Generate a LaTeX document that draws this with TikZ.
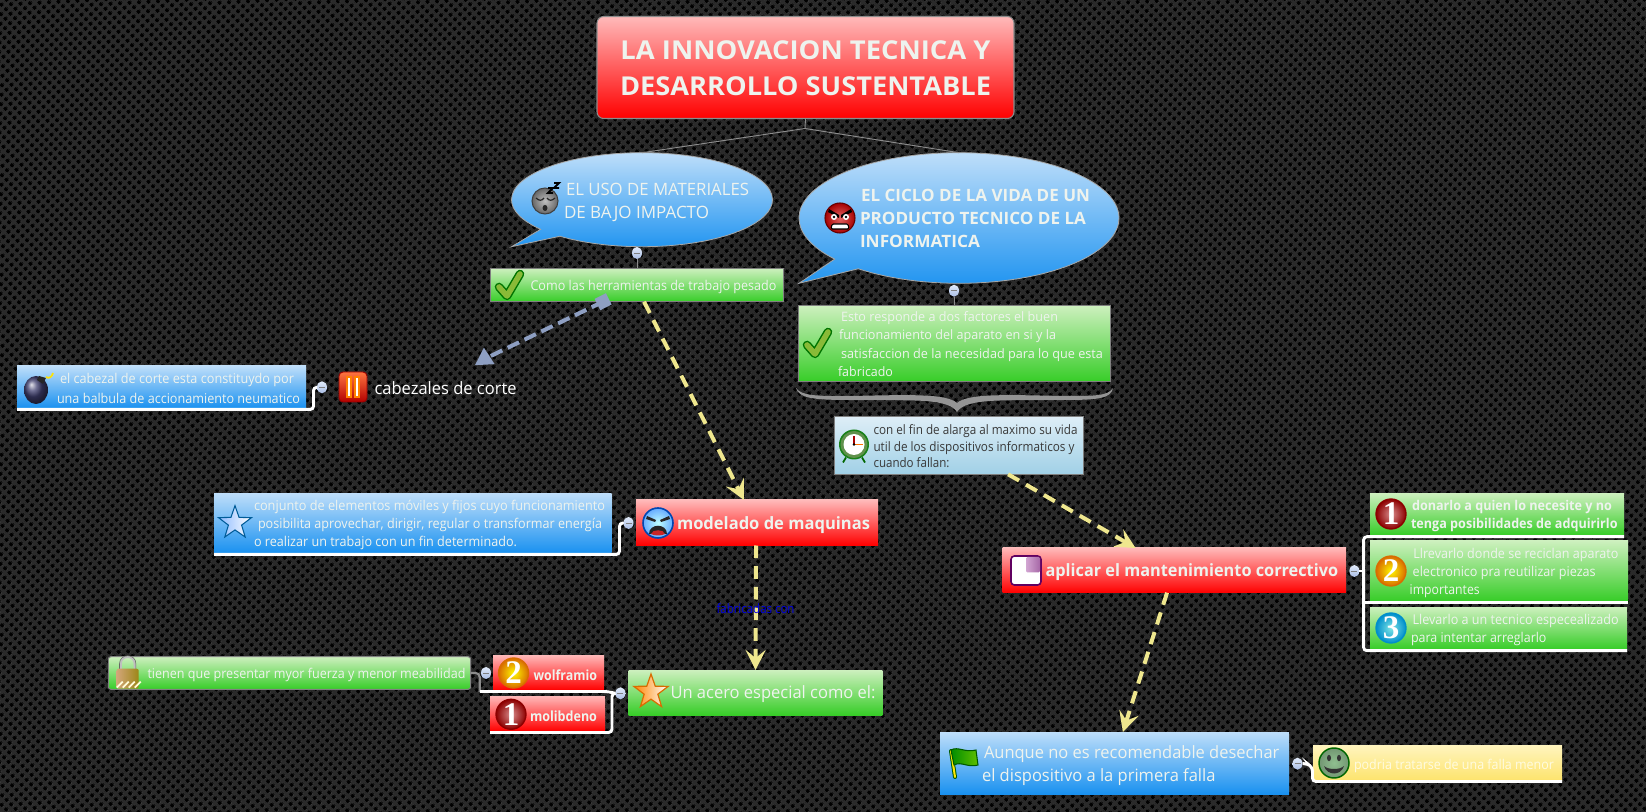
\documentclass[tikz,border=0pt]{standalone}
\usepackage{fontspec}
\usepackage{graphicx}
\usetikzlibrary{shapes.geometric,shapes.callouts,arrows.meta,patterns.meta,calc}
\setmainfont{Open Sans}
\newfontfamily\numf{Liberation Serif}
\newdimen\pxu \pxu=0.75pt
\newcommand\fitl[2]{\resizebox{#1\pxu}{\height}{#2}}
\newcommand\fs[2]{\fontsize{#1\pxu}{#2\pxu}\selectfont}
\definecolor{bgc}{HTML}{2A2A2A}
\definecolor{yel}{HTML}{EFE78E}
\definecolor{blg}{HTML}{8E9FC2}
\definecolor{txtw}{HTML}{EEF3EE}
\tikzset{
  flat/.style={inner sep=0pt,outer sep=0pt,rectangle},
  txt/.style={inner sep=0pt,outer sep=0pt,text=txtw,align=left},
  yarrow/.style={draw=yel,line width=3pt,dash pattern=on 9.5pt off 6pt,-{Stealth[length=15pt,width=15pt,inset=6pt,fill=yel]}},
  wline/.style={draw=white,line width=2.2pt,rounded corners=2.5pt},
  thin line/.style={draw=black!45,line width=.7pt},
  dotn/.style={ellipse,inner sep=0pt,outer sep=0pt,minimum width=7.5pt,minimum height=9pt,top color={rgb,255:red,225;green,235;blue,250},bottom color={rgb,255:red,170;green,190;blue,230}},
  rd/.style={flat,top color={rgb,255:red,255;green,185;blue,185},bottom color=red},
  gr/.style={flat,top color={rgb,255:red,205;green,240;blue,190},bottom color={rgb,255:red,55;green,205;blue,40}},
  bl/.style={flat,top color={rgb,255:red,190;green,222;blue,250},bottom color={rgb,255:red,25;green,145;blue,240}},
  lb/.style={flat,draw=black!50,line width=.8pt,top color={rgb,255:red,222;green,238;blue,247},bottom color={rgb,255:red,160;green,208;blue,230}},
  yl/.style={flat,top color={rgb,255:red,255;green,244;blue,190},bottom color={rgb,255:red,253;green,228;blue,110}},
  callbub/.style={ellipse callout,inner sep=0pt,outer sep=0pt,draw=black!35,line width=.6pt,top color={rgb,255:red,190;green,222;blue,250},bottom color={rgb,255:red,25;green,145;blue,240},callout pointer arc=12},
}
\newcommand\bx[6]{\node[#2,anchor=north west,minimum width={(#5-#3)*0.75pt},minimum height={(#6-#4)*0.75pt}] (#1) at (#3,#4) {};}
\newcommand\colld[3]{\node[dotn] (#1) at (#2,#3) {}; \draw[black!50,line width=.7pt] (#2-3,#3) -- (#2+3,#3);}
\newcommand\badge[6]{\node[circle,inner sep=0pt,outer sep=0pt,minimum size=22.5pt,draw=#5,line width=1pt,inner color=#4,outer color=#5,text=white,font=\numf\bfseries\fs{33}{33}] (#1) at (#2,#3) {#6};}
\newcommand\icheck[3]{\begin{scope}[shift={(#1,#2)},scale=#3]
 \draw[green!45!black,line width=6.4pt*#3,line cap=round,line join=round] (-11,2) -- (-3,11) -- (10,-11);
 \draw[yellow!55!green!85!black,line width=4.2pt*#3,line cap=round,line join=round] (-11,2) -- (-3,11) -- (10,-11);
 \end{scope}}
\begin{document}
\begin{tikzpicture}[x=0.75pt,y=-0.75pt]
\useasboundingbox (0,0) rectangle (1646,812);
\fill[bgc] (0,0) rectangle (1646,812);
\fill[pattern={Dots[distance=5.4pt,radius=1.8pt,angle=45]},pattern color=black] (0,0) rectangle (1646,812);

%% boxes
\node[flat,rounded corners=5pt,draw=black!45,line width=.8pt,top color={rgb,255:red,255;green,185;blue,185},bottom color=red,minimum width={417*0.75pt},minimum height={102*0.75pt}] (title) at (805.5,67.5) {};
\node[txt,align=center,font=\bfseries\fs{26}{36}] (ttl) at (805.5,68.5) {\fitl{370}{LA INNOVACION TECNICA Y}\\\fitl{371}{DESARROLLO SUSTENTABLE}};
\node[callbub,minimum width={261*0.75pt},minimum height={94*0.75pt},callout absolute pointer={(511.6,246.7)}] (bub1) at (642,199.7) {};
\node[callbub,minimum width={320*0.75pt},minimum height={130.6*0.75pt},callout absolute pointer={(799,283.3)}] (bub2) at (959,218) {};
\coordinate (hub) at (805,128.5);
\draw[thin line] (title.south) -- (hub) -- (bub1.north);
\draw[thin line] (hub) -- (bub2.north);

\bx{herr}{gr,draw=black!50,line width=.6pt}{490.5}{268.3}{783}{301.7}
\bx{esto}{gr,draw=black!50,line width=.8pt}{798.3}{305.3}{1110.7}{381.7}
\bx{fin}{lb}{834.3}{416.7}{1083.3}{474.3}
\bx{cabz}{bl}{17}{366}{306}{408}
\bx{conj}{bl}{214}{493.3}{611.5}{553}
\bx{mod}{rd}{636}{500}{878}{545.5}
\bx{lock}{gr,draw=black!50,line width=.8pt,rounded corners=2pt}{108.3}{656.7}{470.7}{689.3}
\bx{wolf}{rd}{493}{655}{604}{690}
\bx{moli}{rd}{490}{696}{605}{731}
\bx{acero}{gr}{628.7}{670}{882.4}{715}
\bx{apli}{rd}{1002.5}{548}{1346}{592.7}
\bx{don}{gr}{1370}{493.3}{1624}{535}
\bx{llev}{gr}{1370}{541}{1628}{601}
\bx{tecn}{gr}{1370}{607}{1627}{649}
\bx{aunq}{bl}{940}{732}{1289}{794}
\bx{falla}{yl}{1313}{745}{1562}{780}

%% collapse dots and thin links
\colld{d1}{637}{253}
\colld{d2}{954}{290.7}
\draw[thin line] (d1) -- (herr.north -| d1);
\draw[thin line] (d2) -- (esto.north -| d2);

%% brace
\fill[black!42] (796,388) .. controls (799,398) and (812,400) .. (850,400) .. controls (905,401) and (948,397) .. (957,412) .. controls (966,397) and (1010,401) .. (1065,400) .. controls (1100,400) and (1111,398) .. (1113,388) .. controls (1108,396) and (1095,396) .. (1065,396) .. controls (1010,395) and (968,393) .. (957,403) .. controls (946,393) and (905,395) .. (850,396) .. controls (815,396) and (802,396) .. (796,388) -- cycle;

%% white connectors
\colld{d3}{322}{387.3}
\draw[wline] (d3.west) -- ++(-3.5,0) |- ([yshift=-1.1pt]cabz.south west);
\colld{d4}{628.5}{523}
\draw[wline] (d4.west) -- ++(-4,0) |- ([yshift=-1.1pt]conj.south west);
\colld{d5}{486}{673}
\draw[draw=black!45,line width=1.6pt,rounded corners=3pt] (lock.east) -- ++(9,0) -- ++(0,19);
\colld{d6}{620.4}{693.3}
\draw[wline] (d6.west) -- ([xshift=2pt,yshift=-1.1pt]wolf.south east) -- (480,691.5);
\draw[wline] (d6.west) -- ++(-3.4,0) |- ([yshift=-1.1pt]moli.south west);
\colld{d7}{1354.4}{571}
\draw[wline] (d7.east) -- (1363.6,571);
\draw[wline] (don.south east |- 0,536.7) -- (1363.6,536.7) -- (1363.6,650.7) -- (tecn.south east |- 0,650.7);
\draw[wline] (1363.6,602.8) -- (llev.south east |- 0,602.8);
\colld{d8}{1297.5}{763.7}
\draw[wline] (d8.east) -- ++(5,0) -- ++(5,4) |- ([yshift=-1.1pt]falla.south east);

%% dashed connectors
\node[regular polygon,regular polygon sides=3,fill=blg,inner sep=0pt,outer sep=0pt,minimum size=17pt,rotate=3] (btri) at (484.5,359) {};
\draw[draw=blg,line width=3pt,dash pattern=on 9.5pt off 4.5pt] ($(herr.south west)!.385!(herr.south east)$) -- (btri);
\node[flat,fill=blg,minimum size=9.5pt,rotate=27] (bsq) at ($(herr.south west)!.385!(herr.south east)$) {};
\draw[yarrow] ($(herr.south west)!.525!(herr.south east)$) -- ($(mod.north west)!.446!(mod.north east)$);
\draw[yarrow] ($(mod.south west)!.496!(mod.south east)$) -- ($(acero.north west)!.5!(acero.north east)$);
\draw[yarrow] ($(fin.south west)!.698!(fin.south east)$) -- ($(apli.north west)!.3875!(apli.north east)$);
\draw[yarrow] ($(apli.south west)!.479!(apli.south east)$) -- ($(aunq.north west)!.524!(aunq.north east)$);
\node[inner sep=0pt,text={rgb,255:red,0;green,0;blue,225},font=\fs{13}{13}] (lfab) at (755.5,609) {\fitl{78}{fabricadas con}};

%% texts
\node[txt,anchor=west,font=\fs{17}{23}] (tb1) at (564,202.5) {\hspace*{2\pxu}\fitl{183}{EL USO DE MATERIALES}\\\fitl{145}{DE BAJO IMPACTO}};
\node[txt,anchor=west,font=\bfseries\fs{17}{23}] (tb2) at (860,218.5) {\hspace*{1\pxu}\fitl{229}{EL CICLO DE LA VIDA DE UN}\\\fitl{226}{PRODUCTO TECNICO DE LA}\\\fitl{120}{INFORMATICA}};
\node[txt,anchor=west,font=\fs{13.5}{18}] (th) at (530.5,287) {\fitl{246}{Como las herramientas de trabajo pesado}};
\node[txt,anchor=west,font=\fs{13}{18.3}] (te) at (838,344) {\hspace*{3\pxu}\fitl{217}{Esto responde a dos factores el buen}\\\hspace*{1\pxu}\fitl{217}{funcionamiento del aparato en si y la}\\\hspace*{3\pxu}\fitl{262}{satisfaccion de la necesidad para lo que esta}\\\fitl{55}{fabricado}};
\node[txt,anchor=west,text=black!78,font=\fs{13}{16.5}] (tf) at (873.5,446.5) {\fitl{204}{con el fin de alarga al maximo su vida}\\\fitl{201}{util de los dispositivos informaticos y}\\\fitl{76}{cuando fallan:}};
\node[txt,anchor=west,font=\fs{13.5}{19.3}] (tc) at (57,388.5) {\hspace*{3\pxu}\fitl{234}{el cabezal de corte esta constituydo por}\\\fitl{243}{una balbula de accionamiento neumatico}};
\node[txt,anchor=west,font=\fs{17}{20},text=white] (tcab) at (374.6,388) {\fitl{142}{cabezales de corte}};
\node[txt,anchor=west,font=\fs{13.5}{18}] (tcj) at (254,524.5) {\fitl{351}{conjunto de elementos móviles y fijos cuyo funcionamiento}\\\hspace*{4\pxu}\fitl{344}{posibilita aprovechar, dirigir, regular o transformar energía}\\\fitl{263}{o realizar un trabajo con un fin determinado.}};
\node[txt,anchor=west,font=\bfseries\fs{17}{20}] (tm) at (677,525) {\fitl{193}{modelado de maquinas}};
\node[txt,anchor=west,font=\fs{13.5}{18}] (tl) at (147.5,675) {\fitl{318}{tienen que presentar myor fuerza y menor meabilidad}};
\node[txt,anchor=west,font=\bfseries\fs{14}{18}] (tw) at (533.5,675.7) {\fitl{63.5}{wolframio}};
\node[txt,anchor=west,font=\bfseries\fs{14}{18}] (tmo) at (530,716.7) {\fitl{67}{molibdeno}};
\node[txt,anchor=west,font=\fs{17}{20}] (tac) at (670.5,694) {\fitl{205}{Un acero especial como el:}};
\node[txt,anchor=west,font=\bfseries\fs{17}{20}] (tap) at (1045.6,572) {\fitl{292.5}{aplicar el mantenimiento correctivo}};
\node[txt,anchor=west,font=\bfseries\fs{13.5}{18}] (td) at (1411,516) {\hspace*{1\pxu}\fitl{200}{donarlo a quien lo necesite y no}\\\fitl{206.6}{tenga posibilidades de adquirirlo}};
\node[txt,anchor=west,font=\fs{13.5}{18}] (tll) at (1409.7,573) {\hspace*{3.7\pxu}\fitl{205}{Llrevarlo donde se reciclan aparato}\\\hspace*{3\pxu}\fitl{183}{electronico pra reutilizar piezas}\\\fitl{70}{importantes}};
\node[txt,anchor=west,font=\fs{13.5}{18}] (ttc) at (1411,630) {\hspace*{1.6\pxu}\fitl{206}{Llevarlo a un tecnico especealizado}\\\fitl{135.5}{para intentar arreglarlo}};
\node[txt,anchor=west,font=\fs{17}{23}] (tau) at (982,765.5) {\hspace*{2\pxu}\fitl{295.4}{Aunque no es recomendable desechar}\\\fitl{233.5}{el dispositivo a la primera falla}};
\node[txt,anchor=west,text={rgb,255:red,255;green,251;blue,224},font=\fs{13.5}{18}] (tfa) at (1354,766) {\fitl{200}{podria tratarse de una falla menor}};

%% icons
\icheck{510}{285}{1}
\icheck{818}{343}{1}
\badge{n1}{1391}{514}{red!35!white!85!black}{red!55!black}{1}
\badge{n2}{1391}{571}{yellow!95!orange}{orange!85!black}{2}
\badge{n3}{1391}{628}{cyan!45!white!90!black}{blue!30!cyan!80!black}{3}
\badge{n4}{513.6}{673}{yellow!95!orange}{orange!85!black}{2}
\badge{n5}{511}{714.3}{red!35!white!85!black}{red!55!black}{1}

% sleeping face
\begin{scope}[shift={(545,201)}]
 \shade[inner color=black!25,outer color=black!60,draw=black!75,line width=.8pt] (0,0) circle[radius=13];
 \draw[black!85,line width=.9pt] (-9,-3) .. controls (-6,0) and (-3,0) .. (-1,-3) (2,-3) .. controls (4,0) and (7,0) .. (10,-3);
 \fill[black!85] (0,7) ellipse[x radius=2.5,y radius=3];
 \draw[black,line width=1.4pt,line join=miter] (3,-13) -- (8,-13) -- (3,-8) -- (8,-8) (9,-18) -- (14,-18) -- (9,-13) -- (14,-13);
\end{scope}
% angry face
\begin{scope}[shift={(840,218)}]
 \shade[inner color=red!55!white!90!black,outer color=red!65!black,draw=black!60!red,line width=.8pt] (0,0) circle[radius=15];
 \fill[black] (-11,-9) -- (-1,-3) -- (-1,0) -- (-12,-6) -- cycle (11,-9) -- (1,-3) -- (1,0) -- (12,-6) -- cycle;
 \fill[white] (-6,-1) circle[radius=3] (6,-1) circle[radius=3];
 \fill[black] (-6,-1) circle[radius=1.4] (6,-1) circle[radius=1.4];
 \fill[white,draw=black,line width=.8pt,rounded corners=1pt] (-8,6) -- (8,6) -- (9,11) -- (-9,11) -- cycle;
\end{scope}
% crying face
\begin{scope}[shift={(658,523)}]
 \shade[inner color=cyan!25!white,outer color=cyan!45!blue!60!white,draw=blue!60!cyan!70!black,line width=1.2pt] (0,0) circle[radius=15];
 \fill[black!85] (-11,-7) -- (-2,-3) -- (-3,-1) -- (-12,-4) -- cycle (11,-7) -- (2,-3) -- (3,-1) -- (12,-4) -- cycle;
 \fill[black!85] (-9,11) .. controls (-9,0) and (9,0) .. (9,11) -- cycle;
 \fill[red!75!black!85] (-7,11) .. controls (-6,6) and (6,6) .. (7,11) .. controls (3,13) and (-3,13) .. (-7,11) -- cycle;
\end{scope}
% smile
\begin{scope}[shift={(1334,763)}]
 \shade[inner color=green!25!white!75!black,outer color=green!25!black!55,draw=green!40!black,line width=1.1pt] (0,0) circle[radius=15];
 \fill[black!80] (-5,-5) ellipse[x radius=2,y radius=3.2] (5,-5) ellipse[x radius=2,y radius=3.2];
 \fill[black!80] (-10,3) .. controls (-6,7) and (6,7) .. (10,3) .. controls (7,13) and (-7,13) .. (-10,3) -- cycle;
\end{scope}
% stars
\node[star,star points=5,star point ratio=2.5,inner sep=0pt,minimum size=26pt,left color=cyan!40!blue!45!white,middle color=cyan!12!white,right color=white,draw=blue!40!cyan!60!black,line width=.8pt] (st1) at (235,523) {};
\node[star,star points=5,star point ratio=2.5,inner sep=0pt,minimum size=27pt,left color=orange!95!yellow,middle color=yellow!80!orange,right color=white,draw=orange!85!black,line width=.9pt] (st2) at (651,692) {};
% pause
\begin{scope}[shift={(353,387)}]
 \shade[rounded corners=3pt,top color=orange!55!red!75!white,bottom color=red!70!black,draw=red!60!black,line width=.7pt] (-14,-15) rectangle (14,15);
 \fill[white,draw=orange,line width=.8pt] (-6,-10) rectangle (-2,10) (2,-10) rectangle (6,10);
\end{scope}
% bomb
\begin{scope}[shift={(37,390)}]
 \shade[ball color=blue!25!black!75] (-1,0) ellipse[x radius=12,y radius=14];
 \fill[black!85] (2,-14) -- (9,-12) -- (6,-6) -- (0,-10) -- cycle;
 \draw[yellow!85!orange,line width=1.3pt] (9,-13) .. controls (12,-11) and (15,-13) .. (16,-17);
\end{scope}
% clock
\begin{scope}[shift={(854,444.5)}]
 \draw[green!40!black,line width=1.3pt] (-8,13) -- (-11,18) (8,13) -- (11,18);
 \fill[green!45!black!90] (0,0) circle[radius=15];
 \fill[yellow!30!green!65!black] (0,0) circle[radius=13.4];
 \fill[white] (0,0) circle[radius=10.5];
 \draw[red!65!black,line width=1.2pt] (0,0) -- (0,-8);
 \draw[orange!90!red,line width=1.4pt] (0,0) -- (9,0);
 \fill[black] (0,0) circle[radius=1.4];
\end{scope}
% lock
\begin{scope}[shift={(127.7,672.7)}]
 \draw[black!25,line width=1.6pt] (-7,-1) -- (-7,-9) .. controls (-7,-18) and (7,-18) .. (7,-9) -- (7,-1);
 \draw[black!60,line width=.4pt] (-8.2,-1) -- (-8.2,-9) .. controls (-8.2,-19.5) and (8.2,-19.5) .. (8.2,-9) -- (8.2,-1);
 \shade[rounded corners=1.5pt,left color=brown!70!white,right color=brown!50!yellow!70!black] (-11,-4) rectangle (11,16);
 \foreach \k in {-8,-2,4,10}{\draw[white!85!yellow,line width=1.3pt] (\k-3,15) -- (\k+3,9);}
\end{scope}
% flag
\begin{scope}[shift={(963,763)}]
 \draw[green!35!black,line width=3pt,line cap=round] (-12,-12) -- (-8,14);
 \draw[yellow!90!orange,line width=1.5pt,line cap=round] (-12,-12) -- (-8,14);
 \shade[left color=green!55!black,right color=yellow!50!green!75!black,draw=green!35!black,line width=.8pt] (-12,-13) .. controls (-5,-17) and (2,-10) .. (13,-13) -- (15,2) .. controls (5,5) and (-2,-2) .. (-9,2) -- cycle;
\end{scope}
% note
\begin{scope}[shift={(1026,570.5)}]
 \fill[white,draw=violet!75!black,line width=1.2pt,rounded corners=2.5pt] (-15,-14.5) rectangle (15,14.5);
 \shade[left color=violet!35!white,right color=violet!55!white!90!black,rounded corners=1pt] (0,-13.5) -- (14,-13.5) -- (14,2) -- (0,2) -- cycle;
\end{scope}
\end{tikzpicture}
\end{document}
